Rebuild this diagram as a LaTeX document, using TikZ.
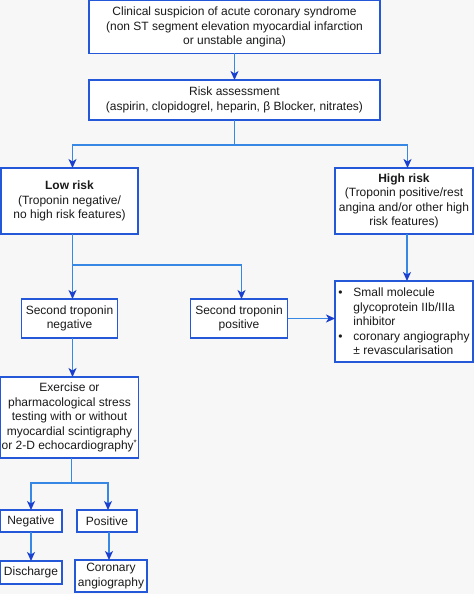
\documentclass[tikz,border=0pt]{standalone}
\usepackage{fontspec}
\setmainfont{Liberation Sans}
\usepackage{tikz}
\usetikzlibrary{arrows.meta,positioning}
\definecolor{acsPaper}{HTML}{F7F7F7}
\definecolor{acsFrame}{HTML}{2558D8}
\definecolor{acsWire}{HTML}{3688E4}
\definecolor{acsTip}{HTML}{1B3FCF}
\definecolor{acsInk}{HTML}{1A1A1A}
\tikzset{
  acsbox/.style={
    rectangle, draw=acsFrame, line width=1.6pt, outer sep=0pt,
    fill=white, text=acsInk, font=\fontsize{12}{14.5}\selectfont,
    align=center, inner sep=1pt
  },
  acsline/.style={draw=acsWire, line width=1.5pt},
  acslink/.style={acsline, -{Stealth[length=9pt,width=8pt,inset=2.5pt,color=acsTip]}}
}

\begin{document}
\begin{tikzpicture}[x=1pt, y=-1pt]

% Fondo
\fill[acsPaper] (0,0) rectangle (474,594);
\useasboundingbox (0,0) rectangle (474,594);

% Cabecera
\node[acsbox, minimum width=291pt, minimum height=53pt] (clin) at (234.5,27) {Clinical suspicion of acute coronary syndrome\\(non ST segment elevation myocardial infarction\\or unstable angina)};
\node[acsbox, minimum width=291pt, minimum height=40pt, below=26.5pt of clin] (risk) {Risk assessment\\(aspirin, clopidogrel, heparin, β Blocker, nitrates)};

% Riesgo bajo / alto
\node[acsbox, minimum width=137pt, minimum height=66pt] (low) at (69.5,201) {\textbf{Low risk}\\(Troponin negative/\\no high risk features)};
\node[acsbox, minimum width=138pt, minimum height=66pt] (high) at (404,201) {\textbf{High risk}\\(Troponin positive/rest\\angina and/or other high\\risk features)};

% Segunda troponina
\node[acsbox, minimum width=96pt, minimum height=39pt, below=65pt of low] (neg2) {Second troponin\\negative};
\node[acsbox, minimum width=97pt, minimum height=39pt, right=73pt of neg2] (pos2) {Second troponin\\positive};
\node[acsbox, minimum width=138pt, minimum height=81pt, align=left, below=47pt of high] (treat) {\makebox[15pt][l]{•}Small molecule\\\hspace*{15pt}glycoprotein IIb/IIIa\\\hspace*{15pt}inhibitor\\\makebox[15pt][l]{•}coronary angiography\\\hspace*{15pt}± revascularisation};

% Prueba de esfuerzo
\node[acsbox, minimum width=138pt, minimum height=81pt, below=39pt of neg2] (exer) {Exercise or\\pharmacological stress\\testing with or without\\myocardial scintigraphy\\or 2-D echocardiography\textsuperscript{*}};
\node[acsbox, minimum width=62pt, minimum height=22pt] (neg) at (31,521) {Negative};
\node[acsbox, minimum width=60pt, minimum height=22pt, right=15pt of neg] (pos) {Positive};
\node[acsbox, minimum width=62pt, minimum height=23pt, below=29pt of neg] (disch) {Discharge};
\node[acsbox, minimum width=72pt, minimum height=32pt, below=28pt of pos, xshift=4pt] (cor) {Coronary\\angiography};

% Enlaces
\draw[acslink] (clin) -- (risk);
\draw[acsline] (risk.south) -- ++(0,25) coordinate (riskfork);
\draw[acslink] (riskfork) -| ([xshift=3pt]low.north);
\draw[acslink] (riskfork) -| ([xshift=3.5pt]high.north);
\draw[acsline] ([xshift=3pt]low.south) -- ++(0,31) coordinate (lowfork);
\draw[acslink] (lowfork) -- (lowfork |- neg2.north);
\draw[acslink] (lowfork) -| ([xshift=2.5pt]pos2.north);
\draw[acslink] (pos2) -- (pos2 -| treat.west);
\draw[acslink] ([xshift=3pt]high.south) -- ([xshift=3pt]treat.north);
\draw[acslink] ([xshift=3pt]neg2.south) -- ([xshift=3pt]exer.north);
\draw[acsline] ([xshift=2pt]exer.south) -- ++(0,25) coordinate (exfork);
\draw[acslink] (exfork) -| (neg.north);
\draw[acslink] (exfork) -| ([xshift=1pt]pos.north);
\draw[acslink] (neg) -- (disch);
\draw[acslink] ([xshift=2pt]pos.south) -- ([xshift=2pt]pos.south |- cor.north);

\end{tikzpicture}
\end{document}
